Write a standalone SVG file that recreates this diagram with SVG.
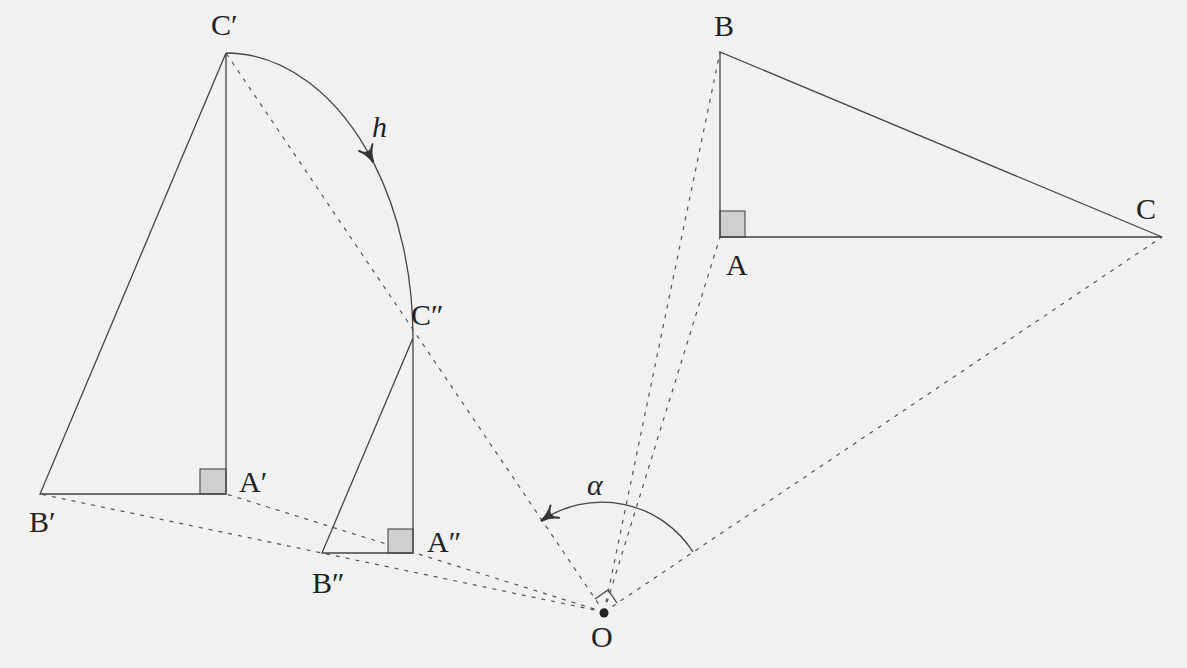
<svg xmlns="http://www.w3.org/2000/svg" width="1187" height="668" viewBox="0 0 1187 668">
<defs>
<style>
.solid{fill:none;stroke:#444;stroke-width:1.3}
.dash{fill:none;stroke:#555;stroke-width:1.2;stroke-dasharray:4 6}
.sq{fill:#cfcfcf;stroke:#555;stroke-width:1.2}
.lbl{font-family:"Liberation Serif","DejaVu Serif",serif;font-size:30px;fill:#222}
.it{font-family:"Liberation Serif","DejaVu Serif",serif;font-style:italic;font-size:30px;fill:#222}
</style>
<marker id="arr" viewBox="0 0 12 12" refX="11" refY="6" markerWidth="20" markerHeight="20" markerUnits="userSpaceOnUse" orient="auto">
<path d="M1,1.5 Q5,5.2 11,6 Q5,6.8 1,10.5" fill="none" stroke="#333" stroke-width="1.2" stroke-linecap="round"/>
<path d="M2,3 Q6,5.6 11,6 Q6,6.4 2,9 Q5,6 2,3 Z" fill="#333"/>
</marker>
</defs>
<rect width="1187" height="668" fill="#f1f1f1"/>
<g id="connectors">
<line class="dash" x1="604" y1="612" x2="720" y2="52"/>
<line class="dash" x1="604" y1="612" x2="720" y2="237"/>
<line class="dash" x1="604" y1="612" x2="1162" y2="237"/>
<line class="dash" x1="604" y1="612" x2="226" y2="53"/>
<line class="dash" x1="604" y1="612" x2="226" y2="494"/>
<line class="dash" x1="604" y1="612" x2="40" y2="494"/>
<path class="solid" d="M226,53 A187,285 0 0 1 373.4,162.4" marker-end="url(#arr)"/>
<path class="solid" d="M373.4,162.4 A187,285 0 0 1 413,338"/>
<path class="solid" d="M693,552 A108,108 0 0 0 541,521" marker-end="url(#arr)"/>
<path class="solid" d="M595,599 L608,590 L617,603" stroke-width="1.2"/>
</g>
<g id="triangle-ABC">
<rect class="sq" x="720" y="211" width="25" height="26"/>
<path class="solid" d="M720,52 L720,237 L1162,237 Z"/>
</g>
<g id="triangle-A1B1C1">
<rect class="sq" x="200" y="469" width="26" height="25"/>
<path class="solid" d="M226,53 L226,494 L40,494 Z"/>
</g>
<g id="triangle-A2B2C2">
<rect class="sq" x="388" y="529" width="25" height="24"/>
<path class="solid" d="M413,338 L413,553 L322,553 Z"/>
</g>
<g id="point-O">
<circle cx="604" cy="613" r="4.5" fill="#222"/>
</g>
<g id="labels">
<text class="lbl" x="211" y="35">C′</text>
<text class="lbl" x="714" y="36">B</text>
<text class="lbl" x="1136" y="219">C</text>
<text class="lbl" x="726" y="275">A</text>
<text class="lbl" x="239" y="492">A′</text>
<text class="lbl" x="29" y="532">B′</text>
<text class="lbl" x="411" y="325">C″</text>
<text class="lbl" x="427" y="552">A″</text>
<text class="lbl" x="312" y="593">B″</text>
<text class="lbl" x="591" y="647">O</text>
<text class="it" x="587" y="495">α</text>
<text class="it" x="372" y="137">h</text>
</g>
</svg>
